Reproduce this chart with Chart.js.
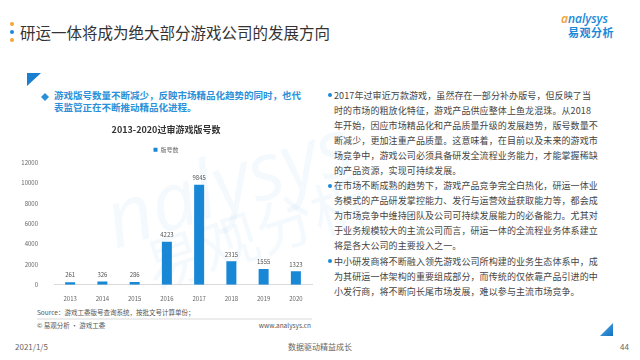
<!DOCTYPE html>
<html>
<head>
<meta charset="utf-8">
<script src="https://cdn.jsdelivr.net/npm/chart.js@4.4.0/dist/chart.umd.min.js"></script>
<style>
  body { margin: 0; width: 640px; height: 360px; background: #fff; position: relative; overflow: hidden;
         font-family: "Noto Sans CJK SC", "Noto Sans", sans-serif; }
  .abs { position: absolute; }
  .dot { position: absolute; width: 4px; height: 4px; border-radius: 2px; }
  #title { left: 20px; top: 22px; font-size: 15.5px; color: #333; white-space: nowrap; line-height: 20px; }
  #logo1 { left: 561px; top: 11px; font-size: 12px; color: #1a8ad8; font-family: "Open Sans", sans-serif; font-style: italic; font-weight: 600; line-height: 16px; }
  #logo1 span { color: #f0a030; }
  #logo2 { left: 568px; top: 25px; font-size: 11px; color: #1a8ad8; font-weight: bold; letter-spacing: 0.5px; line-height: 14px; }
  #lead { left: 54px; top: 90px; font-size: 9.5px; font-weight: bold; color: #2a90d8; line-height: 11.5px; white-space: nowrap; }
  #right { left: 334px; top: 87.5px; font-size: 9px; letter-spacing: 0.1px; color: #444; line-height: 15.1px; white-space: nowrap; }
  #right .b { position: absolute; left: -6px; width: 4px; height: 4px; border-radius: 2px; background: #1a8ad8; }
  .small { font-size: 6.5px; color: #555; white-space: nowrap; line-height: 8px; }
  .foot { font-size: 8px; color: #666; white-space: nowrap; line-height: 10px; }
  #wm1 { left: 100px; top: 140px; font-size: 80px; color: rgba(30,140,215,0.05); font-family: "Open Sans", sans-serif; font-style: italic; transform: rotate(-18deg); white-space: nowrap; line-height: 80px; }
  #wm2 { left: 140px; top: 200px; font-size: 58px; color: rgba(30,140,215,0.05); transform: rotate(-18deg); white-space: nowrap; line-height: 60px; }
  #chartBox { left: 20px; top: 118px; }
</style>
</head>
<body>
<div class="dot" style="left:10px;top:22px;background:#f0a830"></div>
<div class="dot" style="left:10px;top:30px;background:#1a8ad8"></div>
<div class="dot" style="left:10px;top:38px;background:#f0a830"></div>
<div id="title" class="abs">研运一体将成为绝大部分游戏公司的发展方向</div>
<div id="logo1" class="abs"><span>a</span>nalysys</div>
<div id="logo2" class="abs">易观分析</div>

<svg class="abs" style="left:0;top:0" width="640" height="360">
  <polygon points="27,73 41,73 27,86" fill="#1a7fd0"/>
  <defs><linearGradient id="g" x1="0" y1="0" x2="1" y2="1"><stop offset="0" stop-color="#4fb0ea"/><stop offset="1" stop-color="#1670c0"/></linearGradient></defs>
  <polygon points="613,323 613,336 600,336" fill="url(#g)"/>
  <polygon points="45,93 49,97 45,101 41,97" fill="#2a90d8"/>
  <line x1="37" y1="319" x2="312" y2="319" stroke="#d9d9d9" stroke-width="1"/>
</svg>

<div id="lead" class="abs">游戏版号数量不断减少，反映市场精品化趋势的同时，也代<br>表监管正在不断推动精品化进程。</div>

<div id="wm1" class="abs">nalysys</div>
<div id="wm2" class="abs">易观分析</div>

<div id="chartBox" class="abs"><canvas id="bars" width="310" height="186"></canvas></div>

<div class="abs small" style="left:37px;top:308px">Source：游戏工委版号查询系统，按批文号计算单份；</div>
<div class="abs small" style="left:37px;top:321px">© 易观分析 · 游戏工委</div>
<div class="abs small" style="left:250px;top:321px;width:61px;text-align:right">www.analysys.cn</div>

<div id="right" class="abs">
<div class="b" style="top:5.5px"></div>
2017年过审近万款游戏，虽然存在一部分补办版号，但反映了当<br>
时的市场的粗放化特征，游戏产品供应整体上鱼龙混珠。从2018<br>
年开始，因应市场精品化和产品质量升级的发展趋势，版号数量不<br>
断减少，更加注重产品质量。这意味着，在目前以及未来的游戏市<br>
场竞争中，游戏公司必须具备研发全流程业务能力，才能掌握稀缺<br>
的产品资源，实现可持续发展。<br>
<div class="b" style="top:96px"></div>
在市场不断成熟的趋势下，游戏产品竞争完全白热化，研运一体业<br>
务模式的产品研发掌控能力、发行与运营效益获取能力等，都会成<br>
为市场竞争中维持团队及公司可持续发展能力的必备能力。尤其对<br>
于业务规模较大的主流公司而言，研运一体的全流程业务体系建立<br>
将是各大公司的主要投入之一。<br>
<div class="b" style="top:171.5px"></div>
中小研发商将不断融入领先游戏公司所构建的业务生态体系中，成<br>
为其研运一体架构的重要组成部分，而传统的仅依靠产品引进的中<br>
小发行商，将不断向长尾市场发展，难以参与主流市场竞争。
</div>

<div class="abs foot" style="left:15px;top:342px">2021/1/5</div>
<div class="abs foot" style="left:288px;top:342px">数据驱动精益成长</div>
<div class="abs foot" style="left:620px;top:342px">44</div>

<script>
// 过审游戏版号数
var years = ['2013', '2014', '2015', '2016', '2017', '2018', '2019', '2020'];
var approvals = [261, 326, 286, 4223, 9845, 2315, 1555, 1323];
var seriesName = '版号数';
var chartTitle = '2013-2020过审游戏版号数';
var yMax = 12000;
var yStep = 2000;

var fontFamily = '"Noto Sans CJK SC", "Noto Sans", sans-serif';

// value labels above bars
var barLabels = {
    id: 'barLabels',
    afterDatasetsDraw: function (chart) {
        var ctx = chart.ctx;
        var meta = chart.getDatasetMeta(0);
        ctx.save();
        ctx.font = '6px ' + fontFamily;
        ctx.fillStyle = '#555';
        ctx.textAlign = 'center';
        ctx.textBaseline = 'bottom';
        meta.data.forEach(function (bar, i) {
            ctx.fillText(approvals[i], bar.x, bar.y - 4);
        });
        ctx.restore();
    }
};

new Chart(document.getElementById('bars'), {
    type: 'bar',
    data: {
        labels: years,
        datasets: [{
            label: seriesName,
            data: approvals,
            backgroundColor: '#1787d6',
            barPercentage: 0.31,
            categoryPercentage: 1
        }]
    },
    options: {
        responsive: false,
        animation: false,
        layout: { padding: { left: 0, right: 18, top: 0, bottom: 0 } },
        plugins: {
            title: {
                display: true,
                text: chartTitle,
                color: '#333',
                font: { size: 9, weight: 'bold', family: fontFamily },
                padding: { top: 6, bottom: 6 }
            },
            legend: {
                labels: {
                    boxWidth: 4,
                    boxHeight: 4,
                    color: '#666',
                    font: { size: 6, family: fontFamily },
                    padding: 6
                }
            },
            tooltip: { enabled: false }
        },
        scales: {
            x: {
                grid: { display: false },
                border: { color: '#d9d9d9' },
                ticks: { color: '#666', font: { size: 6, family: fontFamily }, padding: 2 }
            },
            y: {
                min: 0,
                max: yMax,
                grid: { display: false },
                border: { display: false },
                ticks: {
                    stepSize: yStep,
                    color: '#666',
                    font: { size: 6, family: fontFamily },
                    padding: 8,
                    callback: function (v) { return String(v); }
                },
                afterFit: function (s) { s.width = 34; }
            }
        }
    },
    plugins: [barLabels]
});
</script>
</body>
</html>
